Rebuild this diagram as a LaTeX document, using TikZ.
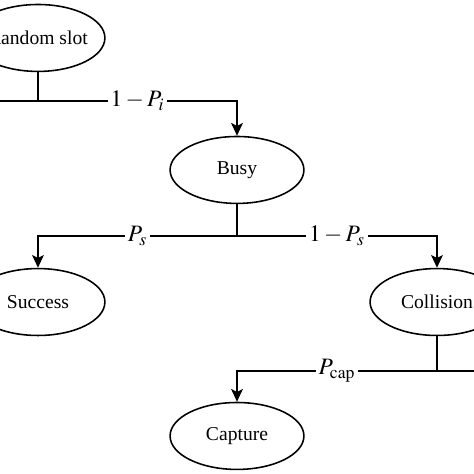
\documentclass[tikz,border=0pt]{standalone}
\usepackage{mathptmx}
\usepackage{fontspec}
\setmainfont{Liberation Serif}
\usetikzlibrary{positioning}
\usetikzlibrary{shapes.geometric}
\usetikzlibrary{arrows.meta}
\tikzset{
    state/.style = {ellipse,draw,line width=0.8pt,minimum width=2.4cm,minimum height=1.2cm,inner sep=0pt,inner xsep=-1.5pt},
    branch/.style = {line width=0.8pt},
    prob/.style = {fill=white,inner sep=1.5pt,font=\large},
    >={Stealth[length=6.5pt,width=6pt,inset=1.5pt]}}
\begin{document}
\begin{tikzpicture}
        \clip (0,0) rectangle (8.5,8.5);
        \path (0.681,7.819) node[state] (R) {Random slot}
        ++ (0,-1.13) coordinate (r1)
        + (-1.5,0) coordinate (r0)
        ++ (3.569,-1.237) node[state] (B) {Busy}
        ++ (0,-1.184) coordinate (b1)
        + (-3.569,-1.184) node[state] (S) {Success}
        ++ (3.586,-1.184) node[state] (C) {Collision}
        ++ (0,-1.237) coordinate (c1)
        + (1.5,0) coordinate (c2)
        ++ (-3.586,-1.165) node[state] (K) {Capture};
        \draw[branch] (R) -- (r1) (r0) -- (r1);
        \draw[branch,->] (r1) -| node[prob,pos=0.25] {$1-P_i$} (B);
        \draw[branch] (B) -- (b1);
        \draw[branch,->] (b1) -| node[prob,pos=0.25] {$P_s$} (S);
        \draw[branch,->] (b1) -| node[prob,pos=0.25] {$1-P_s$} (C);
        \draw[branch] (C) -- (c1) -- (c2);
        \draw[branch,->] (c1) -| node[prob,pos=0.25] {$P_{\mathrm{cap}}$} (K);
\end{tikzpicture}
\end{document}
